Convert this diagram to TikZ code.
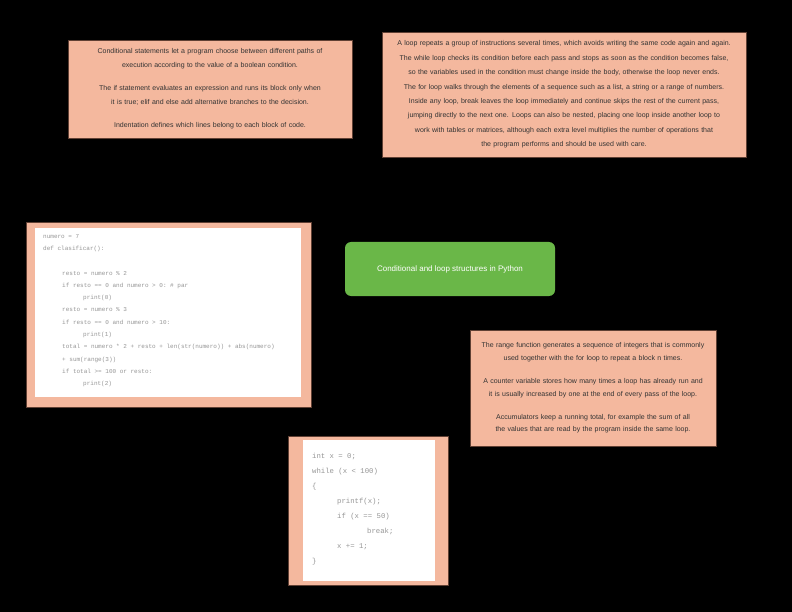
\documentclass[tikz,border=0pt]{standalone}
\usepackage{fontspec}
\setmainfont{Liberation Sans}
\setmonofont{Liberation Mono}
\usetikzlibrary{positioning}
\definecolor{salmon}{RGB}{244,184,158}
\definecolor{edgebrown}{RGB}{96,64,52}
\definecolor{leafgreen}{RGB}{106,183,72}
\definecolor{codegray}{RGB}{150,150,150}
\tikzstyle{note}=[draw=edgebrown,line width=0.8pt,fill=salmon,align=center,inner sep=0pt,text=black!80,font=\fontsize{7}{14}\selectfont]
\tikzstyle{frame}=[draw=edgebrown,line width=0.6pt,fill=salmon,inner sep=0pt]
\newcommand{\ind}[1]{\hspace*{#1pt}}

\begin{document}
\begin{tikzpicture}[x=1pt,y=-1pt,
    page/.style={fill=white,inner sep=0pt},
    code/.style={anchor=north west,inner sep=0pt,align=left,text=codegray}]
  \useasboundingbox (0,0) rectangle (792,612);
  \fill[black] (0,0) rectangle (792,612);
  % the notes
  \node[note,minimum width=284,minimum height=98,text width=260](ifnote) at (210,89){%
    Conditional statements let a program choose between different paths of\\
    execution according to the value of a boolean condition.\\[9pt]
    The if statement evaluates an expression and runs its block only when\\
    it is true; elif and else add alternative branches to the decision.\\[9pt]
    Indentation defines which lines belong to each block of code.};
  \node[note,minimum width=364,minimum height=125,text width=350,font=\fontsize{7}{14.4}\selectfont](loopnote) at (564,94.5){%
    A loop repeats a group of instructions several times, which avoids writing the same code again and again.\\
    The while loop checks its condition before each pass and stops as soon as the condition becomes false,\\
    so the variables used in the condition must change inside the body, otherwise the loop never ends.\\
    The for loop walks through the elements of a sequence such as a list, a string or a range of numbers.\\
    Inside any loop, break leaves the loop immediately and continue skips the rest of the current pass,\\
    jumping directly to the next one. Loops can also be nested, placing one loop inside another loop to\\
    work with tables or matrices, although each extra level multiplies the number of operations that\\
    the program performs and should be used with care.};
  \node[note,minimum width=246,minimum height=116,text width=236,font=\fontsize{7}{12.8}\selectfont](rangenote) at (593,388){%
    The range function generates a sequence of integers that is commonly\\
    used together with the for loop to repeat a block n times.\\[10pt]
    A counter variable stores how many times a loop has already run and\\
    it is usually increased by one at the end of every pass of the loop.\\[10pt]
    Accumulators keep a running total, for example the sum of all\\
    the values that are read by the program inside the same loop.};
  % the title
  \node[fill=leafgreen,rounded corners=6pt,minimum width=210,minimum height=54,text=white,font=\fontsize{8}{9}\selectfont](title) at (450,269){Conditional and loop structures in Python};
  % the python code
  \node[frame,minimum width=285,minimum height=185](ifframe) at (168.5,314.5){};
  \node[page,minimum width=266,minimum height=169](ifpage) at (168,312.5){};
  \node[code,font=\ttfamily\fontsize{6}{12.3}\selectfont](ifcode) at (43,234){%
    numero = 7\\
    def clasificar():\\
    \\
    \ind{19}resto = numero \% 2\\
    \ind{19}if resto == 0 and numero > 0: \# par\\
    \ind{40}print(0)\\
    \ind{19}resto = numero \% 3\\
    \ind{19}if resto == 0 and numero > 10:\\
    \ind{40}print(1)\\
    \ind{19}total = numero * 2 + resto + len(str(numero)) + abs(numero)\\
    \ind{19}+ sum(range(3))\\
    \ind{19}if total >= 100 or resto:\\
    \ind{40}print(2)};
  % the c code
  \node[frame,minimum width=160,minimum height=149](loopframe) at (368,510.5){};
  \node[page,minimum width=132,minimum height=141](looppage) at (369,510.5){};
  \node[code,font=\ttfamily\fontsize{7.3}{15}\selectfont](loopcode) at (312,453){%
    int x = 0;\\
    while (x < 100)\\
    \{\\
    \ind{25}printf(x);\\
    \ind{25}if (x == 50)\\
    \ind{55}break;\\
    \ind{25}x += 1;\\
    \}};
\end{tikzpicture}
\end{document}
